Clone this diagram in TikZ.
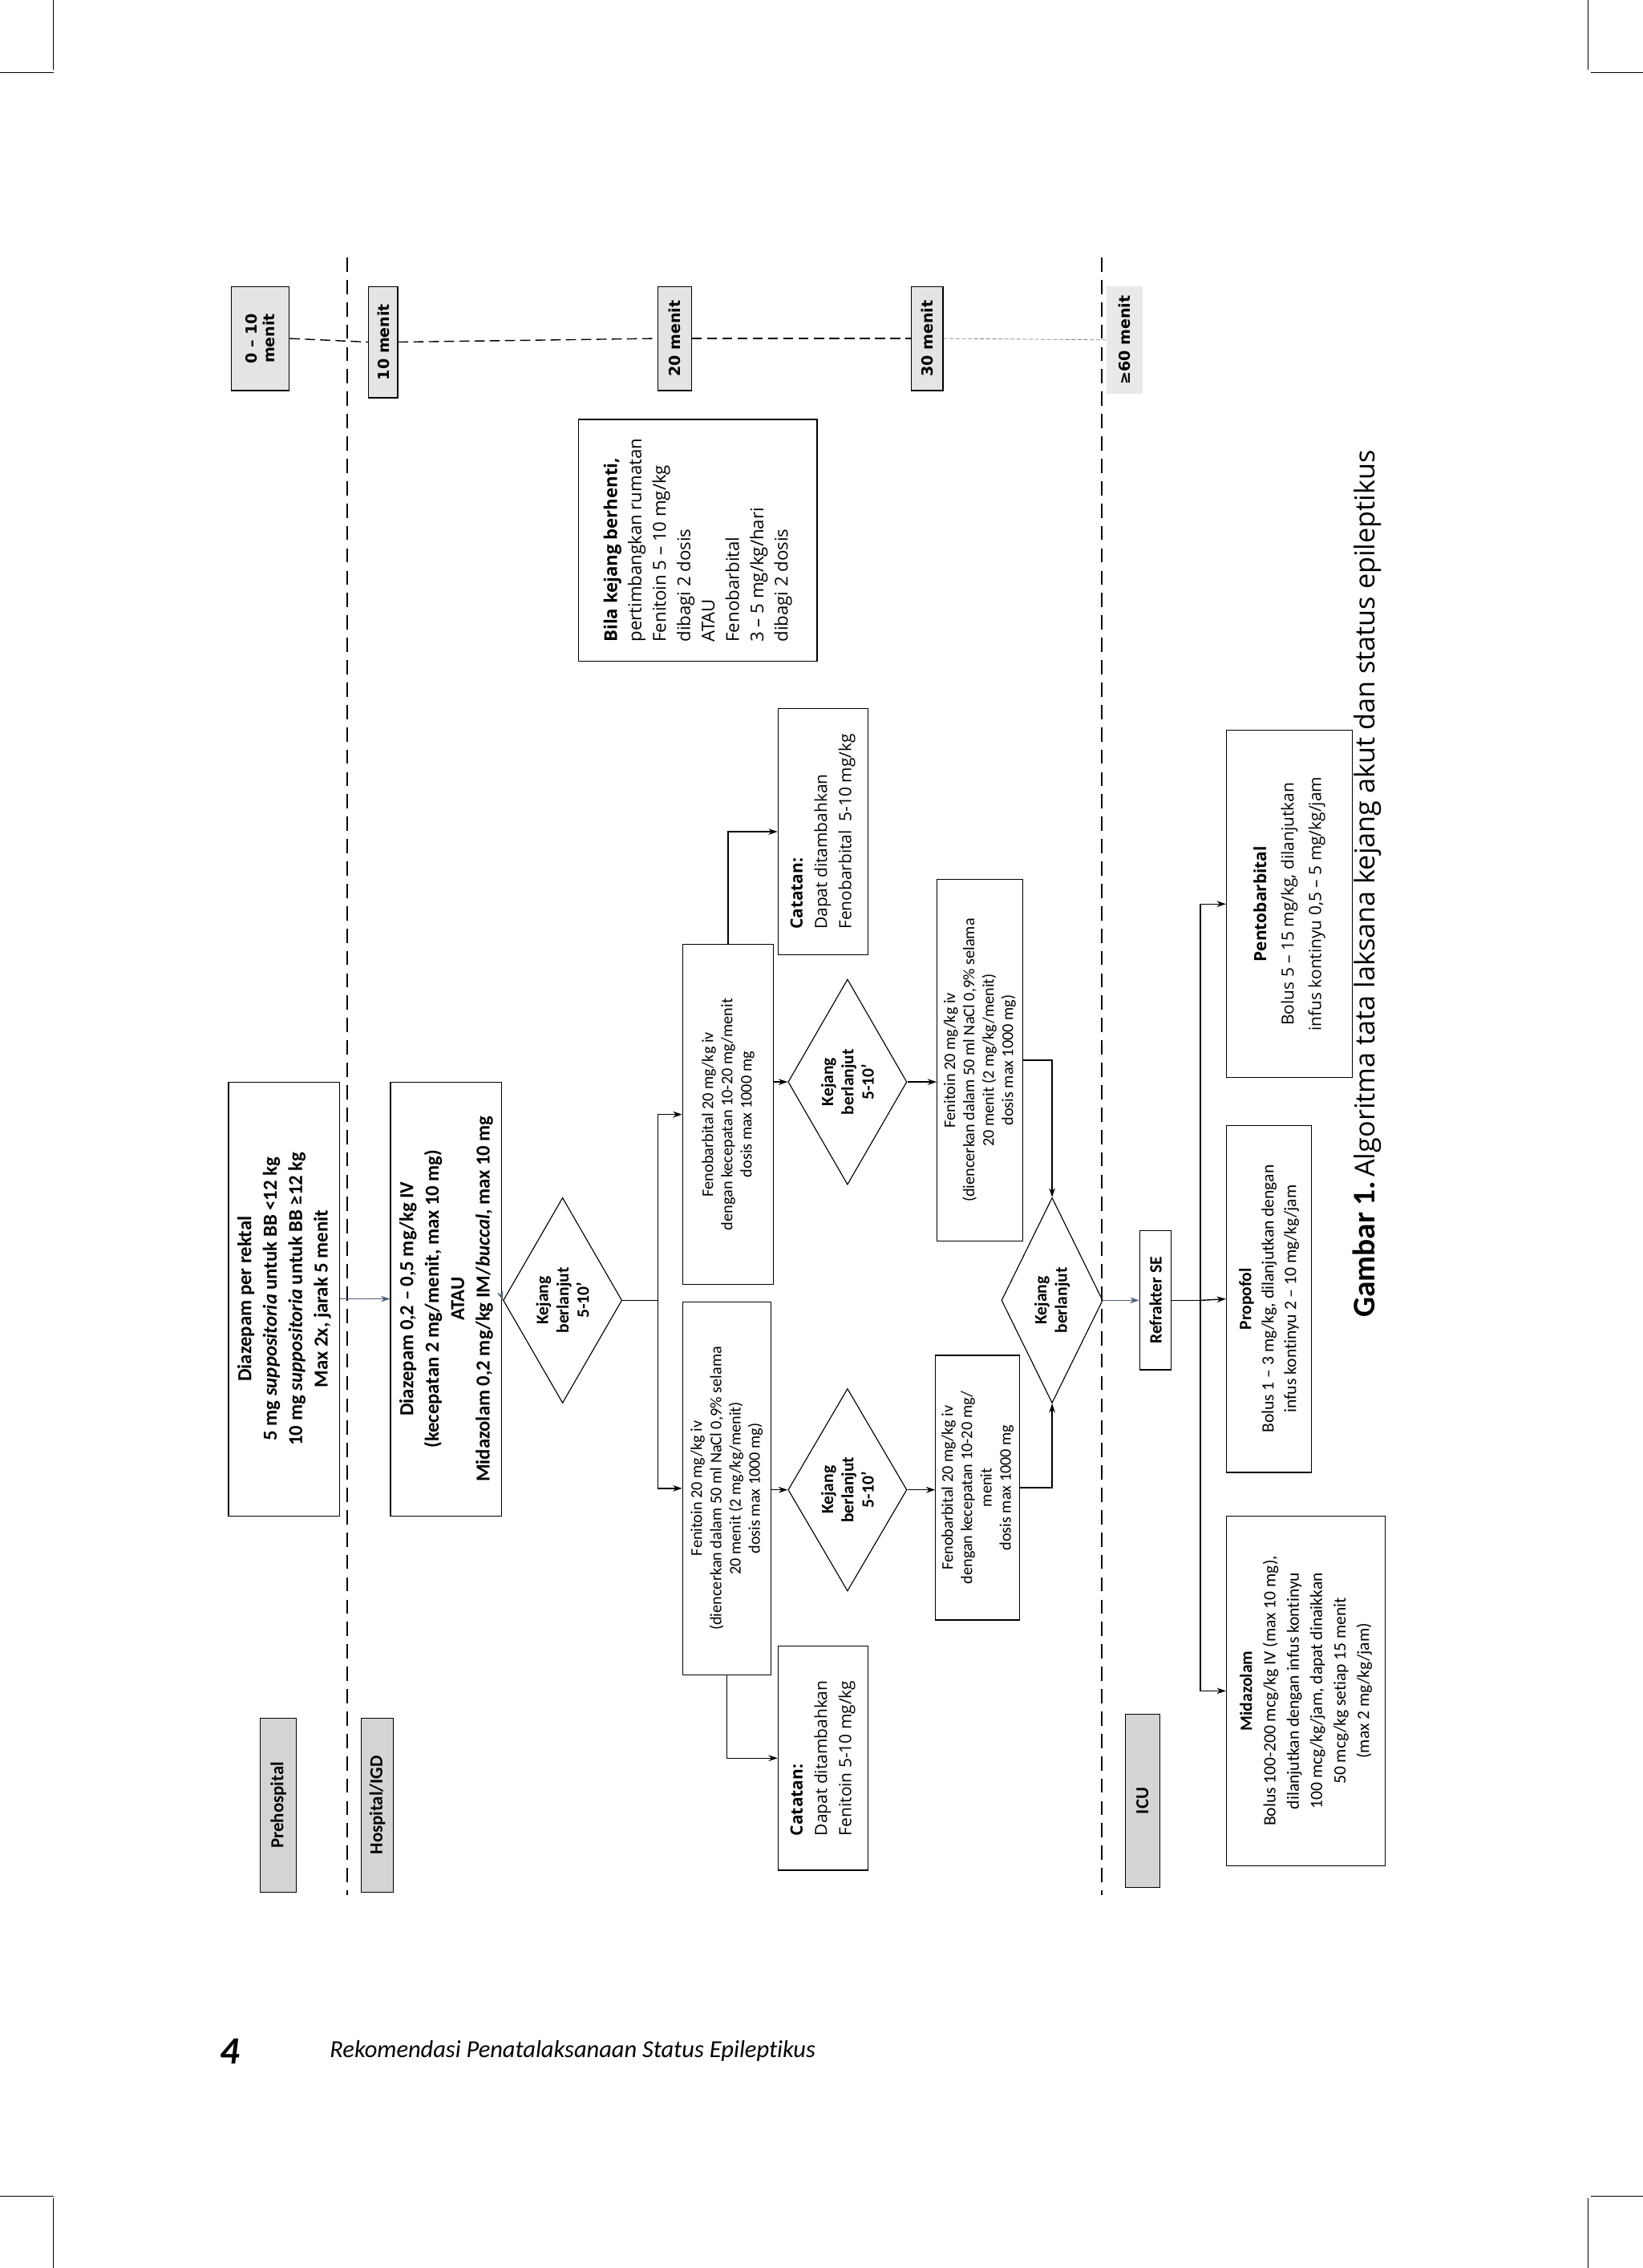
\documentclass[tikz,border=0pt]{standalone}
\usepackage{fontspec}
\setmainfont{Carlito}[RawFeature=-liga]
\newfontfamily\osans{Open Sans}
\newfontfamily\dvs{DejaVu Sans}
\usetikzlibrary{shapes.geometric,arrows.meta}
\definecolor{boxgray}{HTML}{E4E4E4}
\definecolor{labgray}{HTML}{D4D4D4}
\definecolor{arrblue}{HTML}{50607A}
\tikzset{
  bx/.style={draw, line width=0.9pt, rotate=90, inner sep=2pt, align=center, fill=white},
  body/.style={font=\fontsize{16}{19}\selectfont},
  big/.style={font=\bfseries\fontsize{19.5}{25}\selectfont},
  note/.style={font=\osans\fontsize{16.5}{24}\selectfont, align=left},
  dia/.style={draw, line width=0.9pt, diamond, rotate=90, inner sep=0pt, align=center, font=\bfseries\fontsize{17}{20}\selectfont},
  timebox/.style={draw, line width=0.9pt, fill=boxgray, rotate=90, inner sep=0pt, align=center, font=\dvs\bfseries\fontsize{15}{17}\selectfont},
  lab/.style={draw, line width=0.9pt, fill=labgray, rotate=90, inner sep=0pt, font=\bfseries\fontsize{18}{20}\selectfont},
  arr/.style={-{Stealth[length=9pt,width=6pt]}, line width=1.1pt},
  garr/.style={-{Stealth[length=9pt,width=6pt]}, line width=1.1pt, draw=arrblue},
  ln/.style={line width=1.1pt},
  sect/.style={line width=1.6pt, dash pattern=on 14pt off 8pt},
  tl/.style={line width=1.1pt, dash pattern=on 10pt off 5pt},
  crop/.style={line width=0.5pt}
}
\begin{document}
\begin{tikzpicture}[x=0.5mm,y=-0.5mm]
\useasboundingbox (0,0) rectangle (1136,1568);
% crop marks
\draw[crop] (37,0) -- (37,48) (0,50) -- (37,50);
\draw[crop] (1098,0) -- (1098,48) (1100,50) -- (1136,50);
\draw[crop] (37,1520) -- (37,1568) (0,1518) -- (37,1518);
\draw[crop] (1098,1520) -- (1098,1568) (1100,1518) -- (1136,1518);
% section lines
\draw[sect] (240,178) -- (240,1310);
\draw[sect] (762,178) -- (762,1310);
% time boxes
\node[timebox, minimum width=36mm, minimum height=20mm] (t0) at (180,234) {0 – 10\\menit};
\node[timebox, minimum width=38.5mm, minimum height=10mm] (t10) at (265,236.5) {10 menit};
\node[timebox, minimum width=36mm, minimum height=11.5mm] (t20) at (466.5,234) {20 menit};
\node[timebox, minimum width=36mm, minimum height=11mm] (t30) at (641,234) {30 menit};
\node[timebox, draw=none, fill=boxgray!80, minimum width=37mm, minimum height=12.5mm] (t60) at (777.5,235) {≥60 menit};
\draw[tl] (t0.south) -- (t10.north);
\draw[tl] (t10.south) -- (t20.north);
\draw[tl] (t20.south) -- (t30.north);
\draw[line width=0.6pt, dash pattern=on 4pt off 2pt, gray] (t30.south) -- (t60.north);
% section labels
\node[lab, minimum width=60mm, minimum height=12.5mm] (pre) at (192.5,1248) {Prehospital};
\node[lab, minimum width=60mm, minimum height=11mm] (hosp) at (261,1248) {Hospital/IGD};
\node[lab, minimum width=60mm, minimum height=12mm] (icu) at (790,1245) {ICU};
% main boxes
\node[bx, big, minimum width=150mm, minimum height=38.5mm] (b1) at (196.5,898)
 {Diazepam per rektal\\5 mg \textit{suppositoria} untuk BB <12 kg\\10 mg \textit{suppositoria} untuk BB ≥12 kg\\Max 2x, jarak 5 menit};
\node[bx, big, minimum width=150mm, minimum height=38.5mm] (b2) at (308.5,898)
 {Diazepam 0,2 – 0,5 mg/kg IV\\(kecepatan 2 mg/menit, max 10 mg)\\ATAU\\Midazolam 0,2 mg/kg IM/\textit{buccal}, max 10 mg};
\node[dia, minimum width=71mm, minimum height=39mm] (d1) at (389,899) {Kejang\\berlanjut\\5-10’};
\node[bx, body, minimum width=117.5mm, minimum height=31.5mm] (fb1) at (503.5,770.5)
 {Fenobarbital 20 mg/kg iv\\dengan kecepatan 10-20 mg/menit\\dosis max 1000 mg};
\node[bx, body, minimum width=129mm, minimum height=30.5mm] (ft1) at (502.5,1029)
 {Fenitoin 20 mg/kg iv\\(diencerkan dalam 50 ml NaCl 0,9\% selama\\20 menit (2 mg/kg/menit)\\dosis max 1000 mg)};
\node[bx, note, minimum width=85mm, minimum height=31mm] (c1) at (569,575)
 {\textbf{Catatan:}\\Dapat ditambahkan\\Fenobarbital~ 5-10 mg/kg};
\node[bx, note, minimum width=77.5mm, minimum height=31mm] (c2) at (569,1215.5)
 {\textbf{Catatan:}\\Dapat ditambahkan\\Fenitoin 5-10 mg/kg};
\node[dia, minimum width=71mm, minimum height=31mm] (d2) at (586,748) {Kejang\\berlanjut\\5-10’};
\node[dia, minimum width=70mm, minimum height=31mm] (d3) at (586,1030) {Kejang\\berlanjut\\5-10’};
\node[bx, body, minimum width=125mm, minimum height=29.5mm] (ft2) at (677.5,733)
 {Fenitoin 20 mg/kg iv\\(diencerkan dalam 50 ml NaCl 0,9\% selama\\20 menit (2 mg/kg/menit)\\dosis max 1000 mg)};
\node[bx, body, minimum width=91.5mm, minimum height=29mm] (fb2) at (676,1028.5)
 {Fenobarbital 20 mg/kg iv\\dengan kecepatan 10-20 mg/\\menit\\dosis max 1000 mg};
\node[dia, minimum width=71mm, minimum height=34.5mm] (d4) at (727.5,899) {Kejang\\berlanjut};
\node[bx, font=\bfseries\fontsize{17}{20}\selectfont, minimum width=48mm, minimum height=11mm] (rf) at (799,899) {Refrakter SE};
\node[bx, note, align=center, font=\osans\fontsize{16.5}{27}\selectfont, minimum width=120mm, minimum height=43.5mm] (pb) at (891.5,625)
 {\textbf{Pentobarbital}\\Bolus 5 – 15 mg/kg, dilanjutkan\\infus kontinyu 0,5 – 5 mg/kg/jam};
\node[bx, font=\fontsize{17}{22}\selectfont, minimum width=120mm, minimum height=29.5mm] (pp) at (877.5,898)
 {\textbf{Propofol}\\Bolus 1 – 3 mg/kg, dilanjutkan dengan\\infus kontinyu 2 – 10 mg/kg/jam};
\node[bx, font=\fontsize{17}{23}\selectfont, minimum width=121mm, minimum height=55mm] (mz) at (903,1169)
 {\textbf{Midazolam}\\Bolus 100-200 mcg/kg IV (max 10 mg),\\dilanjutkan dengan infus kontinyu\\100 mcg/kg/jam, dapat dinaikkan\\50 mcg/kg setiap 15 menit\\(max 2 mg/kg/jam)};
\node[bx, note, font=\osans\fontsize{17.5}{24}\selectfont, minimum width=83.5mm, minimum height=82.5mm] (bk) at (482.5,373.5)
 {\textbf{Bila kejang berhenti,}\\pertimbangkan rumatan\\Fenitoin 5 – 10 mg/kg\\dibagi 2 dosis\\ATAU\\Fenobarbital\\3 – 5 mg/kg/hari\\dibagi 2 dosis};
% connectors
\draw[garr] (b1.south) -- (b2.north);
\draw[garr] (b2.south) -- (d1.north);
\coordinate (j1) at (455,899);
\draw[ln] (d1.south) -- (j1);
\draw[arr] (j1) |- (fb1.north);
\draw[arr] (j1) |- (ft1.north);
\draw[arr] (fb1.east) |- (c1.north);
\draw[arr] (ft1.west) |- (c2.north);
\draw[arr] (fb1.south |- d2.north) -- (d2.north);
\draw[arr] (ft1.south |- d3.north) -- (d3.north);
\draw[arr] (d2.south) -- (d2.south -| ft2.north);
\draw[arr] (d3.south) -- (d3.south -| fb2.north);
\draw[arr] (ft2.south) -| (d4.east);
\draw[arr] (fb2.south) -| (d4.west);
\draw[garr] (d4.south) -- (rf.north);
\coordinate (j2) at (830,899);
\draw[ln] (rf.south) -- (j2);
\draw[arr] (j2) |- (pb.north);
\draw[arr] (j2) -- (pp.north);
\draw[arr] (j2) |- (mz.north);
% caption
\node[rotate=90, anchor=center, inner sep=0pt] (cap) at (945,611)
 {{\bfseries\fontsize{31}{34}\selectfont Gambar 1.}\,\ {\osans\fontsize{27}{31}\selectfont Algoritma tata laksana kejang akut dan status epileptikus}};
% footer
\node[anchor=west, inner sep=0pt, font=\bfseries\itshape\fontsize{38}{40}\selectfont] (pg) at (152,1418) {4};
\node[anchor=west, inner sep=0pt, font=\itshape\fontsize{24}{26}\selectfont] (ft) at (228,1418) {Rekomendasi Penatalaksanaan Status Epileptikus};
\end{tikzpicture}
\end{document}
